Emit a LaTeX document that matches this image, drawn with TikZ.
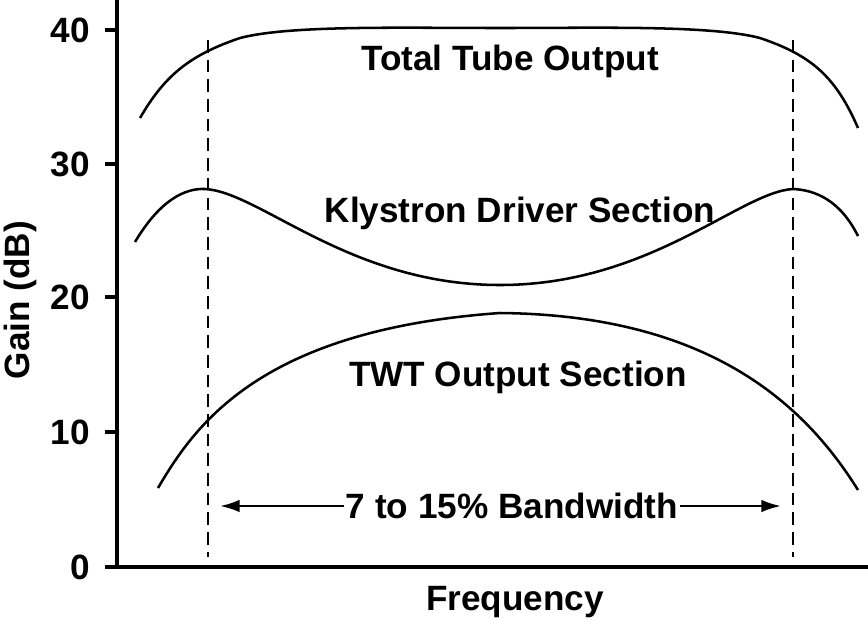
\documentclass[tikz,border=0pt]{standalone}
\usepackage{fontspec}
\setmainfont{Liberation Sans}
\usetikzlibrary{arrows.meta}
\tikzset{
	lbl/.style={font=\fontsize{25}{28}\selectfont\bfseries},
	curve/.style={line width=1.8pt},
}
\begin{document}
\begin{tikzpicture}[x=0.025cm,y=-0.025cm]
		\useasboundingbox (0,0) rectangle (868,620);
		% axes
		\draw[line width=2.2pt] (117,0) -- (117,567) -- (868,567);
		\foreach \v/\y in {40/30,30/164,20/297,10/432,0/567}{
			\draw[line width=2.2pt] (105,\y) -- (117,\y);
			\node[lbl, anchor=east] (t\v) at (95,\y) {\v};
		}
		\node[lbl, rotate=90] (gain) at (20,300) {Gain (dB)};
		\node[lbl] (freq) at (515,602) {Frequency};

		% band edges
		\draw[line width=1.5pt, dash pattern=on 9pt off 5pt] (208,40) -- (208,557);
		\draw[line width=1.5pt, dash pattern=on 9pt off 5pt] (793,40) -- (793,557);

		% curves
		\draw[curve] (140,118) .. controls (165,75) and (190,55) .. (240,38)
			.. controls (290,25) and (400,28) .. (500,28)
			.. controls (600,28) and (710,25) .. (760,38)
			.. controls (810,55) and (835,75) .. (858,128);
		\node[lbl] (total) at (510,61) {Total Tube Output};

		\draw[curve] (135,242) .. controls (160,200) and (185,188) .. (205,189)
			.. controls (260,192) and (350,285) .. (500,285)
			.. controls (650,285) and (740,192) .. (793,189)
			.. controls (815,190) and (840,200) .. (858,236);
		\node[lbl] (klys) at (520,213) {Klystron Driver Section};

		\draw[curve] (158,488) .. controls (195,425) and (260,330) .. (500,313)
			.. controls (710,315) and (805,405) .. (858,490);
		\node[lbl] (twt) at (518,377) {TWT Output Section};

		% bandwidth
		\node[lbl, inner sep=1pt] (bw) at (512,506) {7 to 15\% Bandwidth};
		\coordinate (bl) at (220,506);
		\coordinate (br) at (781,506);
		\draw[line width=1.8pt, -{Latex[length=14pt,width=9pt]}] (bw.west) -- (bl);
		\draw[line width=1.8pt, -{Latex[length=14pt,width=9pt]}] (bw.east) -- (br);
\end{tikzpicture}
\end{document}
